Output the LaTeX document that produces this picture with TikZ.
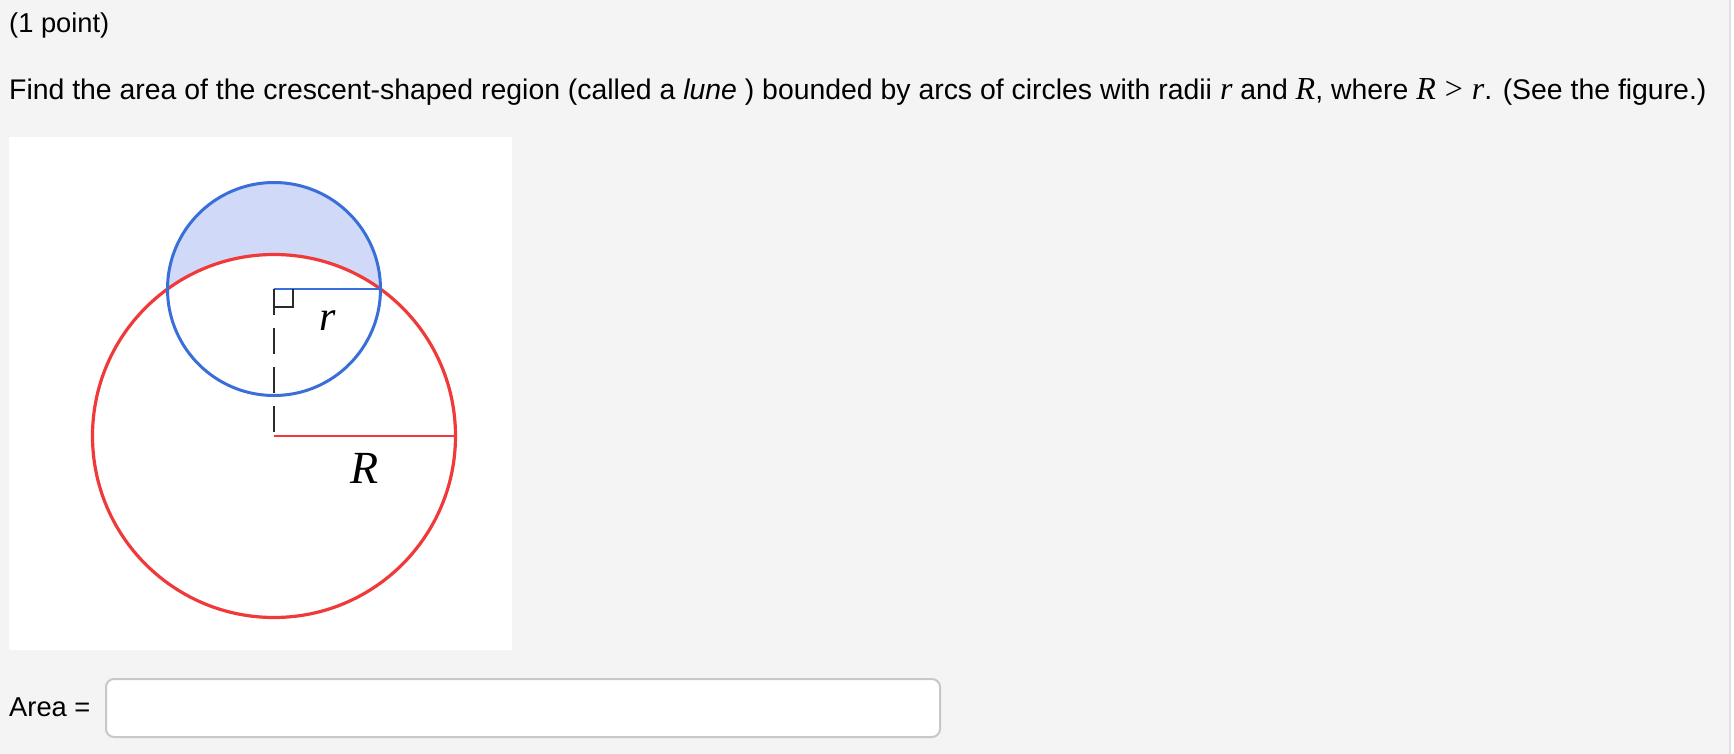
\documentclass[tikz,border=0pt]{standalone}
\usepackage{fontspec}
\setmainfont{Liberation Sans}
\newfontfamily\figserif{Liberation Serif}
\definecolor{pagebg}{HTML}{F4F4F4}
\definecolor{edgegray}{HTML}{E0E0E0}
\definecolor{boxgray}{HTML}{C8C8C8}
\definecolor{circblue}{HTML}{3A6ED8}
\definecolor{circred}{HTML}{F03A3A}
\definecolor{lunefill}{HTML}{D0D9F8}
\definecolor{inkgray}{HTML}{2A2A2A}
\newcommand{\mvar}[1]{{\figserif\fontsize{32}{33}\selectfont\itshape #1\/}}
\newcommand{\mrel}[1]{{\figserif\fontsize{32}{33}\selectfont\hspace{0.28em}#1\hspace{0.28em}}}
\tikzset{
  qtext/.style={inner sep=0pt, anchor=base west, font=\fontsize{27.3}{33}\selectfont},
  qline/.style={inner sep=0pt, anchor=base west, font=\fontsize{28.4}{33}\selectfont},
  figlabel/.style={inner sep=0pt, anchor=base west},
  bluestroke/.style={draw=circblue, line width=3pt},
  redstroke/.style={draw=circred, line width=3.2pt},
  dashline/.style={draw=inkgray, line width=2pt, dash pattern=on 25.5pt off 13.5pt},
  anglemark/.style={draw=inkgray, line width=1.6pt},
}
\begin{document}
\begin{tikzpicture}[x=1pt, y=-1pt]
\useasboundingbox (0,0) rectangle (1734,754);
\fill[pagebg] (0,0) rectangle (1734,754);
\fill[white] (1731,0) rectangle (1734,754);
\draw[edgegray, line width=1.5pt] (1730.2,0) -- (1730.2,754);

% question text
\node[qtext] (pts) at (9,33) {(1 point)};
\node[qline] (question) at (9,100) {Find the area of the crescent-shaped region (called a \textit{lune} ) bounded by arcs of circles with radii \mvar{r} and \mvar{R}, where \mvar{R}\mrel{>}\mvar{r}. (See the figure.)};

% figure panel
\fill[white] (9,137) rectangle (512,650);
\coordinate (cs) at (274,289);
\coordinate (cb) at (274,436);
\coordinate (pl) at (167.5,289);
\coordinate (pr) at (380.5,289);
\coordinate (pbr) at (455.5,436);
\coordinate (sqa) at (274,307);
\coordinate (sqb) at (293,307);
\coordinate (sqc) at (293,289);

% lune
\begin{scope}
  \clip (cs) circle[radius=106.5pt];
  \fill[lunefill, even odd rule] (0,0) rectangle (1734,754) (cb) circle[radius=181.5pt];
\end{scope}

\draw[redstroke] (cb) circle[radius=181.5pt];
\draw[bluestroke] (cs) circle[radius=106.5pt];

\draw[draw=circred, line width=2.5pt] (cb) -- (pbr);
\draw[draw=circblue, line width=2.5pt] (cs) -- (pr);
\draw[dashline] (cs) -- (274,434);
\draw[anglemark] (sqa) -- (sqb) -- (sqc);

\node[figlabel, font=\figserif\itshape\fontsize{42}{42}\selectfont] (rlab) at (319,330) {r};
\node[figlabel, font=\figserif\itshape\fontsize{46}{46}\selectfont] (Rlab) at (350,483) {R};

% answer field
\node[qtext] (arealab) at (9,716) {Area =};
\draw[boxgray, fill=white, line width=2pt, rounded corners=8pt] (106,679) rectangle (940,737);
\end{tikzpicture}
\end{document}
